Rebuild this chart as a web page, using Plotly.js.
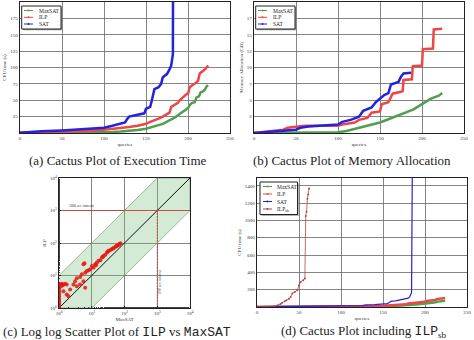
<!DOCTYPE html>
<html><head><meta charset="utf-8">
<script src="https://cdn.plot.ly/plotly-3.0.1.min.js"></script>
<style>html,body{margin:0;padding:0;background:#fff}#chart{width:474px;height:340px}</style>
</head><body><div id="chart"></div>
<script>
// ---------- Data ----------
// (a)/(d) CPU time cactus
const timeMaxsatQ = [0,25,50,75,100,110,120,130,140,150,155,160,165,170,175,180,185,190,195,200,203,205,208,210,213,215,218,220,222,224];
const timeMaxsatV = [0.1,0.2,0.4,0.6,1,1.5,2.2,3,4.5,6.5,8,10,12,14,17,20,24,29,34,38,44,46,47,54,56,62,64,66,71,73];
const timeIlpQ = [0,25,50,75,100,110,120,130,140,150,155,160,165,170,175,178,180,185,188,190,195,198,200,202,205,210,212,214,218,220,224];
const timeIlpV = [0.5,1,2,3,5,6,7.5,9,11,14,17,19,22,25,29,31,40,44,46,50,56,59,60,70,73,77,80,91,95,97,103];
const timeSatQ = [0,10,25,50,75,100,110,120,125,128,130,140,148,150,155,157,160,165,168,170,175,178,180,182,183,184,185];
const timeSatV = [0.5,1.5,2.5,4,6,8,11,14,16,22,25,28,30,37,40,50,67,70,75,85,90,97,103,120,145,165,1800];
const timeIlpSbQ = [0,10,20,25,28,30,33,35,38,40,42,45,48,50,52,55,57,58,59,60,61,62];
const timeIlpSbV = [2,5,10,20,35,50,65,77,95,116,155,174,194,250,290,310,330,1050,1100,1250,1300,1370];
// (b) memory cactus (GB)
const memMaxsatQ = [0,50,100,110,120,125,130,140,150,160,170,180,190,200,210,220,224];
const memMaxsatV = [0,0.05,0.1,0.3,0.6,0.8,1.0,1.3,1.6,2.1,2.6,3.2,3.6,4.4,5.2,5.7,6.1];
const memIlpQ = [0,20,35,40,50,60,100,105,120,125,135,140,150,152,160,165,175,177,178,188,189,200,201,213,214,224];
const memIlpV = [0,0.3,0.5,0.8,1.0,1.1,1.1,1.3,1.6,2.0,2.3,3.1,3.3,4.4,4.7,6.0,6.3,6.4,8.1,8.2,10.2,10.3,12.8,12.9,15.8,15.9];
const memSatQ = [0,25,50,55,65,100,105,115,125,130,140,145,150,155,160,163,172,175,178,187];
const memSatV = [0,0.3,0.5,0.8,1.0,1.3,1.7,2.0,2.5,3.4,3.9,4.7,5.2,5.8,6.1,7.4,7.8,8.6,9.1,9.2];
// (c) scatter ILP vs MaxSAT (seconds)
const scatterMaxsat = [1,1,1,1,1,1,1,1,1,1,1,1,1,1,1,
  1.21,1.36,1.53,1.72,1.15,1.3,1.1,
  1.36,1.72,2.18,1.94,2.76,3.1,3.5,4.4,5.6,6.3,
  3.5,4.43,4.98,6.31,7.1,9.0,10.1,11.4,12.8,14.4,16.2,18.3,20.5,23.1,26.0,29.3,33.0,37.1,41.7,47.0,52.8,59.4,66.9,75.3,
  8.0,13.5,22.0,31.0,44.5,56,70,62,
  5.6,6.0];
const scatterIlp = [1.0,1.05,1.13,1.25,1.43,1.6,1.81,2.05,2.3,2.6,2.9,3.3,3.7,4.2,4.7,
  5.57,5.3,5.57,5.3,4.7,5.0,5.2,
  3.3,2.6,3.7,2.3,5.3,6.7,4.7,5.3,6.7,4.2,
  8.2,9.0,10.9,12.2,13.8,15.6,19.7,17.5,22.2,25.1,28.2,29.5,35.8,40.4,43.4,51.3,57.8,60.6,65.0,70.0,76.9,82.6,88.8,97.7,
  14.5,20.5,37.5,55,68,80,93,86,
  22,24];
const timeout = 1000;
const bandFactor = 10;
const logLo = 1, logHi = 10000;
// tick labels
const queryTicks = [0,50,100,150,200,250];
const timeTicks = [25,50,75,100,125,150,175,200];
const memTickVals = [2.5,5,7.5,10,12.5,15,17.5,20];
const memTickText = ['2','5','7','10','12','15','17','20'];
const logTickVals = [1,10,100,1000,10000];
const logTickText = ['10<sup>0</sup>','10<sup>1</sup>','10<sup>2</sup>','10<sup>3</sup>','10<sup>4</sup>'];
const bigTimeTicks = [200,400,600,800,1000,1200,1400];

// ---------- Styles ----------
const W = 474, H = 340;
const PX = x => x / W, PY = y => 1 - y / H;
const C = {maxsat:'#4f9f4f', ilp:'#ee4646', sat:'#2323dd', ilpsb:'#b4473f'};
const serif = 'Liberation Serif, Times New Roman, serif';
const tickFont = {family: serif, size: 5, color: '#333'};
const titleFont = {family: serif, size: 5, color: '#333'};

function cactus(q, v, color, xa, ya, w) {
  return {x: q, y: v, xaxis: xa, yaxis: ya, type: 'scatter', mode: 'lines',
    line: {color: color, width: w || 2.5}, showlegend: false, hoverinfo: 'skip'};
}

const traces = [
  cactus(timeMaxsatQ, timeMaxsatV, C.maxsat, 'x', 'y'),
  cactus(timeIlpQ, timeIlpV, C.ilp, 'x', 'y'),
  cactus(timeSatQ, timeSatV, C.sat, 'x', 'y'),
  cactus(memMaxsatQ, memMaxsatV, C.maxsat, 'x2', 'y2'),
  cactus(memIlpQ, memIlpV, C.ilp, 'x2', 'y2'),
  cactus(memSatQ, memSatV, C.sat, 'x2', 'y2'),
];
// (c) band
const bandX = [logLo, logLo*bandFactor, logHi, logHi, logHi/bandFactor, logLo];
const bandY = [logLo, logLo, logHi/bandFactor, logHi, logHi, logLo*bandFactor];
traces.push({x: bandX, y: bandY, xaxis:'x3', yaxis:'y3', type:'scatter', mode:'lines', fill:'toself',
  fillcolor:'rgba(120,190,120,0.32)', line:{color:'rgba(90,160,90,0.8)', width:0.8}, showlegend:false, hoverinfo:'skip'});
traces.push({x:[logLo, logHi], y:[logLo, logHi], xaxis:'x3', yaxis:'y3', type:'scatter', mode:'lines',
  line:{color:'#111', width:1}, showlegend:false, hoverinfo:'skip'});
traces.push({x:[logLo, logHi], y:[timeout, timeout], xaxis:'x3', yaxis:'y3', type:'scatter', mode:'lines',
  line:{color:'#e03030', width:0.7}, showlegend:false, hoverinfo:'skip'});
traces.push({x:[timeout, timeout], y:[logLo, timeout], xaxis:'x3', yaxis:'y3', type:'scatter', mode:'lines',
  line:{color:'#e03030', width:0.7, dash:'2px,1px'}, showlegend:false, hoverinfo:'skip'});
traces.push({x: scatterMaxsat, y: scatterIlp, xaxis:'x3', yaxis:'y3', type:'scatter', mode:'markers',
  marker:{color:'rgba(235,20,20,0.85)', size:4}, showlegend:false, hoverinfo:'skip'});
// (d)
traces.push(cactus(timeMaxsatQ, timeMaxsatV, C.maxsat, 'x4', 'y4'));
traces.push(cactus(timeIlpQ, timeIlpV, C.ilp, 'x4', 'y4'));
traces.push(cactus(timeSatQ, timeSatV, C.sat, 'x4', 'y4', 1.2));
traces.push({x: timeIlpSbQ, y: timeIlpSbV, xaxis:'x4', yaxis:'y4', type:'scatter', mode:'lines+markers',
  line:{color:C.ilpsb, width:0.8}, marker:{color:C.ilpsb, size:2}, showlegend:false, hoverinfo:'skip'});

function axis(domain, range, extra) {
  return Object.assign({domain: domain, range: range, showgrid: true, gridcolor: '#666', gridwidth: 0.8,
    zeroline: false, showline: true, mirror: true, linecolor: '#222', linewidth: 1.3,
    ticks: '', tickfont: tickFont, fixedrange: true}, extra);
}
const dA = {x:[PX(20), PX(230)], y:[PY(133), PY(2)]};
const dB = {x:[PX(254), PX(464)], y:[PY(133), PY(2)]};
const dC = {x:[PX(59), PX(190)], y:[PY(308), PY(178)]};
const dD = {x:[PX(257), PX(467)], y:[PY(307), PY(178)]};

const layout = {
  width: W, height: H, margin: {l:0, r:0, t:0, b:0}, paper_bgcolor: '#fff', plot_bgcolor: '#fff',
  showlegend: false,
  xaxis: axis(dA.x, [0,250], {anchor:'y', tickvals: queryTicks, title:{text:'queries', font:titleFont, standoff:2}}),
  yaxis: axis(dA.y, [0,200], {anchor:'x', tickvals: timeTicks, title:{text:'CPU time (s)', font:titleFont, standoff:3}}),
  xaxis2: axis(dB.x, [0,250], {anchor:'y2', tickvals: queryTicks, title:{text:'queries', font:titleFont, standoff:2}}),
  yaxis2: axis(dB.y, [0,20], {anchor:'x2', tickvals: memTickVals, ticktext: memTickText, title:{text:'Memory Allocation (GB)', font:titleFont, standoff:3}}),
  xaxis3: axis(dC.x, [0,4], {anchor:'y3', type:'log', tickvals: logTickVals, ticktext: logTickText,
    ticks:'inside', ticklen:2, tickcolor:'#222', minor:{ticks:'inside', ticklen:1.2, tickcolor:'#444', showgrid:false},
    title:{text:'MaxSAT', font:titleFont, standoff:2}}),
  yaxis3: axis(dC.y, [0,4], {anchor:'x3', type:'log', tickvals: logTickVals, ticktext: logTickText,
    ticks:'inside', ticklen:2, tickcolor:'#222', minor:{ticks:'inside', ticklen:1.2, tickcolor:'#444', showgrid:false},
    title:{text:'ILP', font:titleFont, standoff:3}}),
  xaxis4: axis(dD.x, [0,250], {anchor:'y4', tickvals: queryTicks, title:{text:'queries', font:titleFont, standoff:2}}),
  yaxis4: axis(dD.y, [0,1490], {anchor:'x4', tickvals: bigTimeTicks, title:{text:'CPU time (s)', font:titleFont, standoff:3}}),
  shapes: [], annotations: []
};

// captions
const capFont = {family: serif, size: 13, color: '#222'};
const mono = "font-family:'Liberation Mono','DejaVu Sans Mono',monospace";
function caption(text, cx, cy) {
  layout.annotations.push({text: text, xref:'paper', yref:'paper', x: PX(cx), y: PY(cy),
    xanchor:'center', yanchor:'middle', showarrow:false, font: capFont});
}
caption('(a) Cactus Plot of Execution Time', 117.5, 160);
caption('(b) Cactus Plot of Memory Allocation', 352, 160);
caption('(c) Log log Scatter Plot of <span style="' + mono + '">ILP</span> vs <span style="' + mono + '">MaxSAT</span>', 117, 332);
caption('(d) Cactus Plot including <span style="' + mono + '">ILP</span><sub>sb</sub>', 364, 331);

// timeout labels in (c)
layout.annotations.push({text:'1000 sec. timeout', xref:'x3', yref:'y3', x: 0.25, y: Math.log10(timeout) + 0.03,
  xanchor:'left', yanchor:'bottom', showarrow:false, font:{family: serif, size:3.5, color:'#333'}});
layout.annotations.push({text:'1000 sec. timeout', xref:'x3', yref:'y3', x: Math.log10(timeout) + 0.08, y: 0.8,
  xanchor:'center', yanchor:'middle', textangle:-90, showarrow:false, font:{family: serif, size:3.5, color:'#333'}});

// manual legends
function legendBox(box, entries, sx0, sx1, tx) {
  layout.shapes.push({type:'rect', xref:'paper', yref:'paper', x0:PX(box[0]+1.2), x1:PX(box[2]+1.2), y0:PY(box[3]+1.2), y1:PY(box[1]+1.2),
    fillcolor:'#999', line:{width:0}, layer:'above'});
  layout.shapes.push({type:'rect', xref:'paper', yref:'paper', x0:PX(box[0]), x1:PX(box[2]), y0:PY(box[3]), y1:PY(box[1]),
    fillcolor:'#fff', line:{color:'#222', width:1}, layer:'above'});
  entries.forEach(e => {
    layout.shapes.push({type:'line', xref:'paper', yref:'paper', x0:PX(sx0), x1:PX(sx1), y0:PY(e.y), y1:PY(e.y),
      line:{color:e.color, width:1}, layer:'above'});
    const mx = (sx0 + sx1) / 2;
    layout.shapes.push({type:'circle', xref:'paper', yref:'paper', x0:PX(mx-1), x1:PX(mx+1), y0:PY(e.y+1), y1:PY(e.y-1),
      fillcolor:e.color, line:{width:0}, layer:'above'});
    layout.annotations.push({text:e.name, xref:'paper', yref:'paper', x:PX(tx), y:PY(e.y), xanchor:'left', yanchor:'middle',
      showarrow:false, font:{family: serif, size:5.5, color:'#222'}});
  });
}
legendBox([21.7,6,61,29], [{name:'MaxSAT',color:C.maxsat,y:10.5},{name:'ILP',color:C.ilp,y:17.3},{name:'SAT',color:C.sat,y:24}], 24, 33, 36.5);
legendBox([255.7,6,295,29], [{name:'MaxSAT',color:C.maxsat,y:10.5},{name:'ILP',color:C.ilp,y:17.3},{name:'SAT',color:C.sat,y:24}], 258, 267, 270.5);
legendBox([260,182,297.5,214.5], [{name:'MaxSAT',color:C.maxsat,y:186.5},{name:'ILP',color:C.ilp,y:194},{name:'SAT',color:C.sat,y:201.5},{name:'ILP<sub>sb</sub>',color:C.ilpsb,y:209}], 263, 272, 275);

Plotly.newPlot('chart', traces, layout, {staticPlot: true, displayModeBar: false});
</script></body></html>
